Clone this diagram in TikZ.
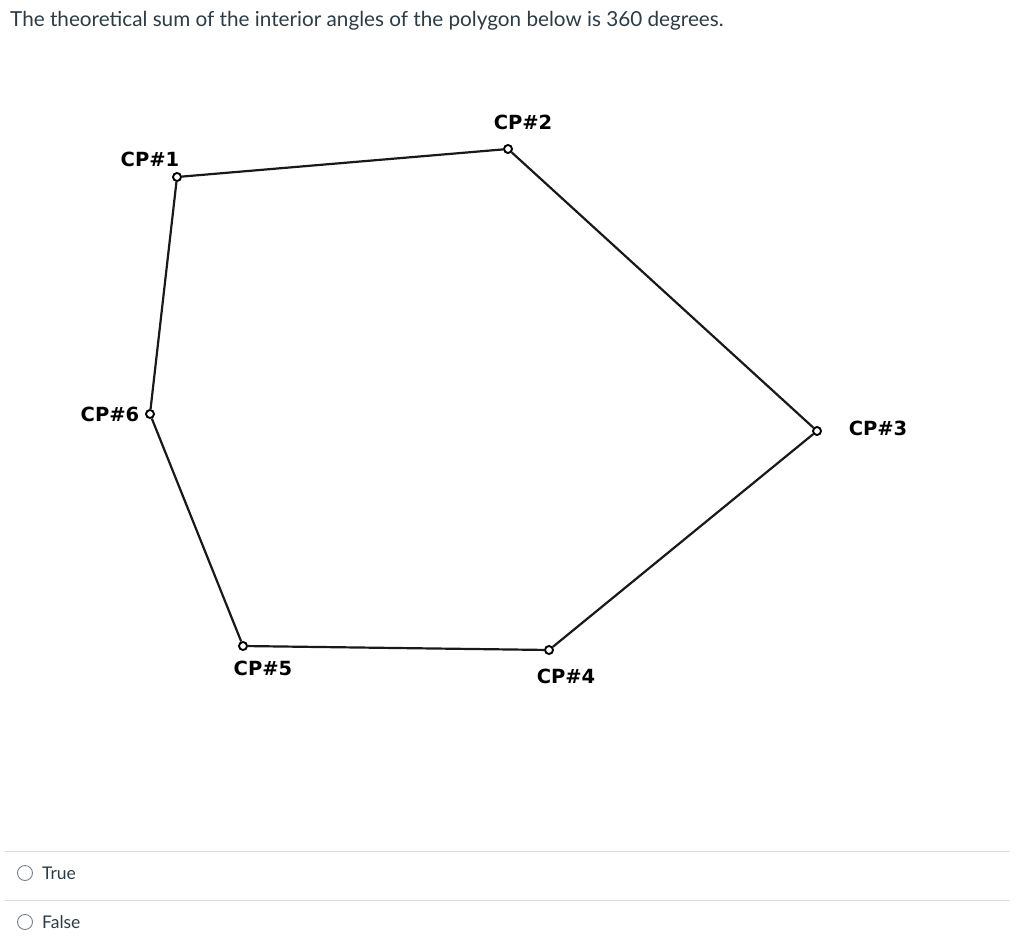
\documentclass[tikz,border=0pt]{standalone}
\usepackage{fontspec}
\setmainfont{Lato}
\newfontfamily\cpfont{DejaVu Sans}
\usepackage{tikz}
\usetikzlibrary{positioning}
\definecolor{canvastext}{HTML}{2D3B45}
\definecolor{rulegray}{HTML}{DDDDDD}
\definecolor{radiogray}{HTML}{73818C}

\begin{document}
\begin{tikzpicture}[x=1pt,y=-1pt]
		\tikzstyle{corner} = [draw, circle, line width=1.9pt, fill=white, inner sep=0pt, minimum size=8pt];
		\tikzstyle{cplabel} = [font=\cpfont\bfseries\fontsize{19.5}{22}\selectfont, inner sep=0pt];
		\tikzstyle{edge} = [line width=2.2pt, black!90];
		\tikzstyle{choice} = [font=\fontsize{17.5}{20}\selectfont, text=canvastext, inner sep=0pt, anchor=west];
		\useasboundingbox (0,0) rectangle (1024,949);
		% question
		\node[anchor=west, inner sep=0pt, text=canvastext, font=\fontsize{20.7}{24}\selectfont] (question) at (10,21) {The theoretical sum of the interior angles of the polygon below is 360 degrees.};
		% corner points
		\node[corner](cp1) at (177,177) {};
		\node[corner](cp2) at (508,149) {};
		\node[corner](cp3) at (817,431) {};
		\node[corner](cp4) at (549,650) {};
		\node[corner](cp5) at (243,646) {};
		\node[corner](cp6) at (150,414) {};
		\draw[edge] (cp1) to (cp2);
		\draw[edge] (cp2) to (cp3);
		\draw[edge] (cp3) to (cp4);
		\draw[edge] (cp4) to (cp5);
		\draw[edge] (cp5) to (cp6);
		\draw[edge] (cp6) to (cp1);
		\node[cplabel] (lab1) at (150,159) {CP\#1};
		\node[cplabel] (lab2) at (523,122) {CP\#2};
		\node[cplabel] (lab3) at (878,428) {CP\#3};
		\node[cplabel] (lab4) at (566,676) {CP\#4};
		\node[cplabel] (lab5) at (263,668) {CP\#5};
		\node[cplabel] (lab6) at (110,414) {CP\#6};
		% answers
		\draw[rulegray, line width=1pt] (5,851) -- (1010,851);
		\draw[rulegray, line width=1pt] (5,900) -- (1010,900);
		\node[draw=radiogray, circle, line width=0.9pt, minimum size=15pt, inner sep=0pt] (radiotrue) at (25,873) {};
		\node[draw=radiogray, circle, line width=0.9pt, minimum size=15pt, inner sep=0pt] (radiofalse) at (25,922) {};
		\node[choice, right=9pt of radiotrue] (true) {True};
		\node[choice, right=9pt of radiofalse] (false) {False};
	\end{tikzpicture}
\end{document}
